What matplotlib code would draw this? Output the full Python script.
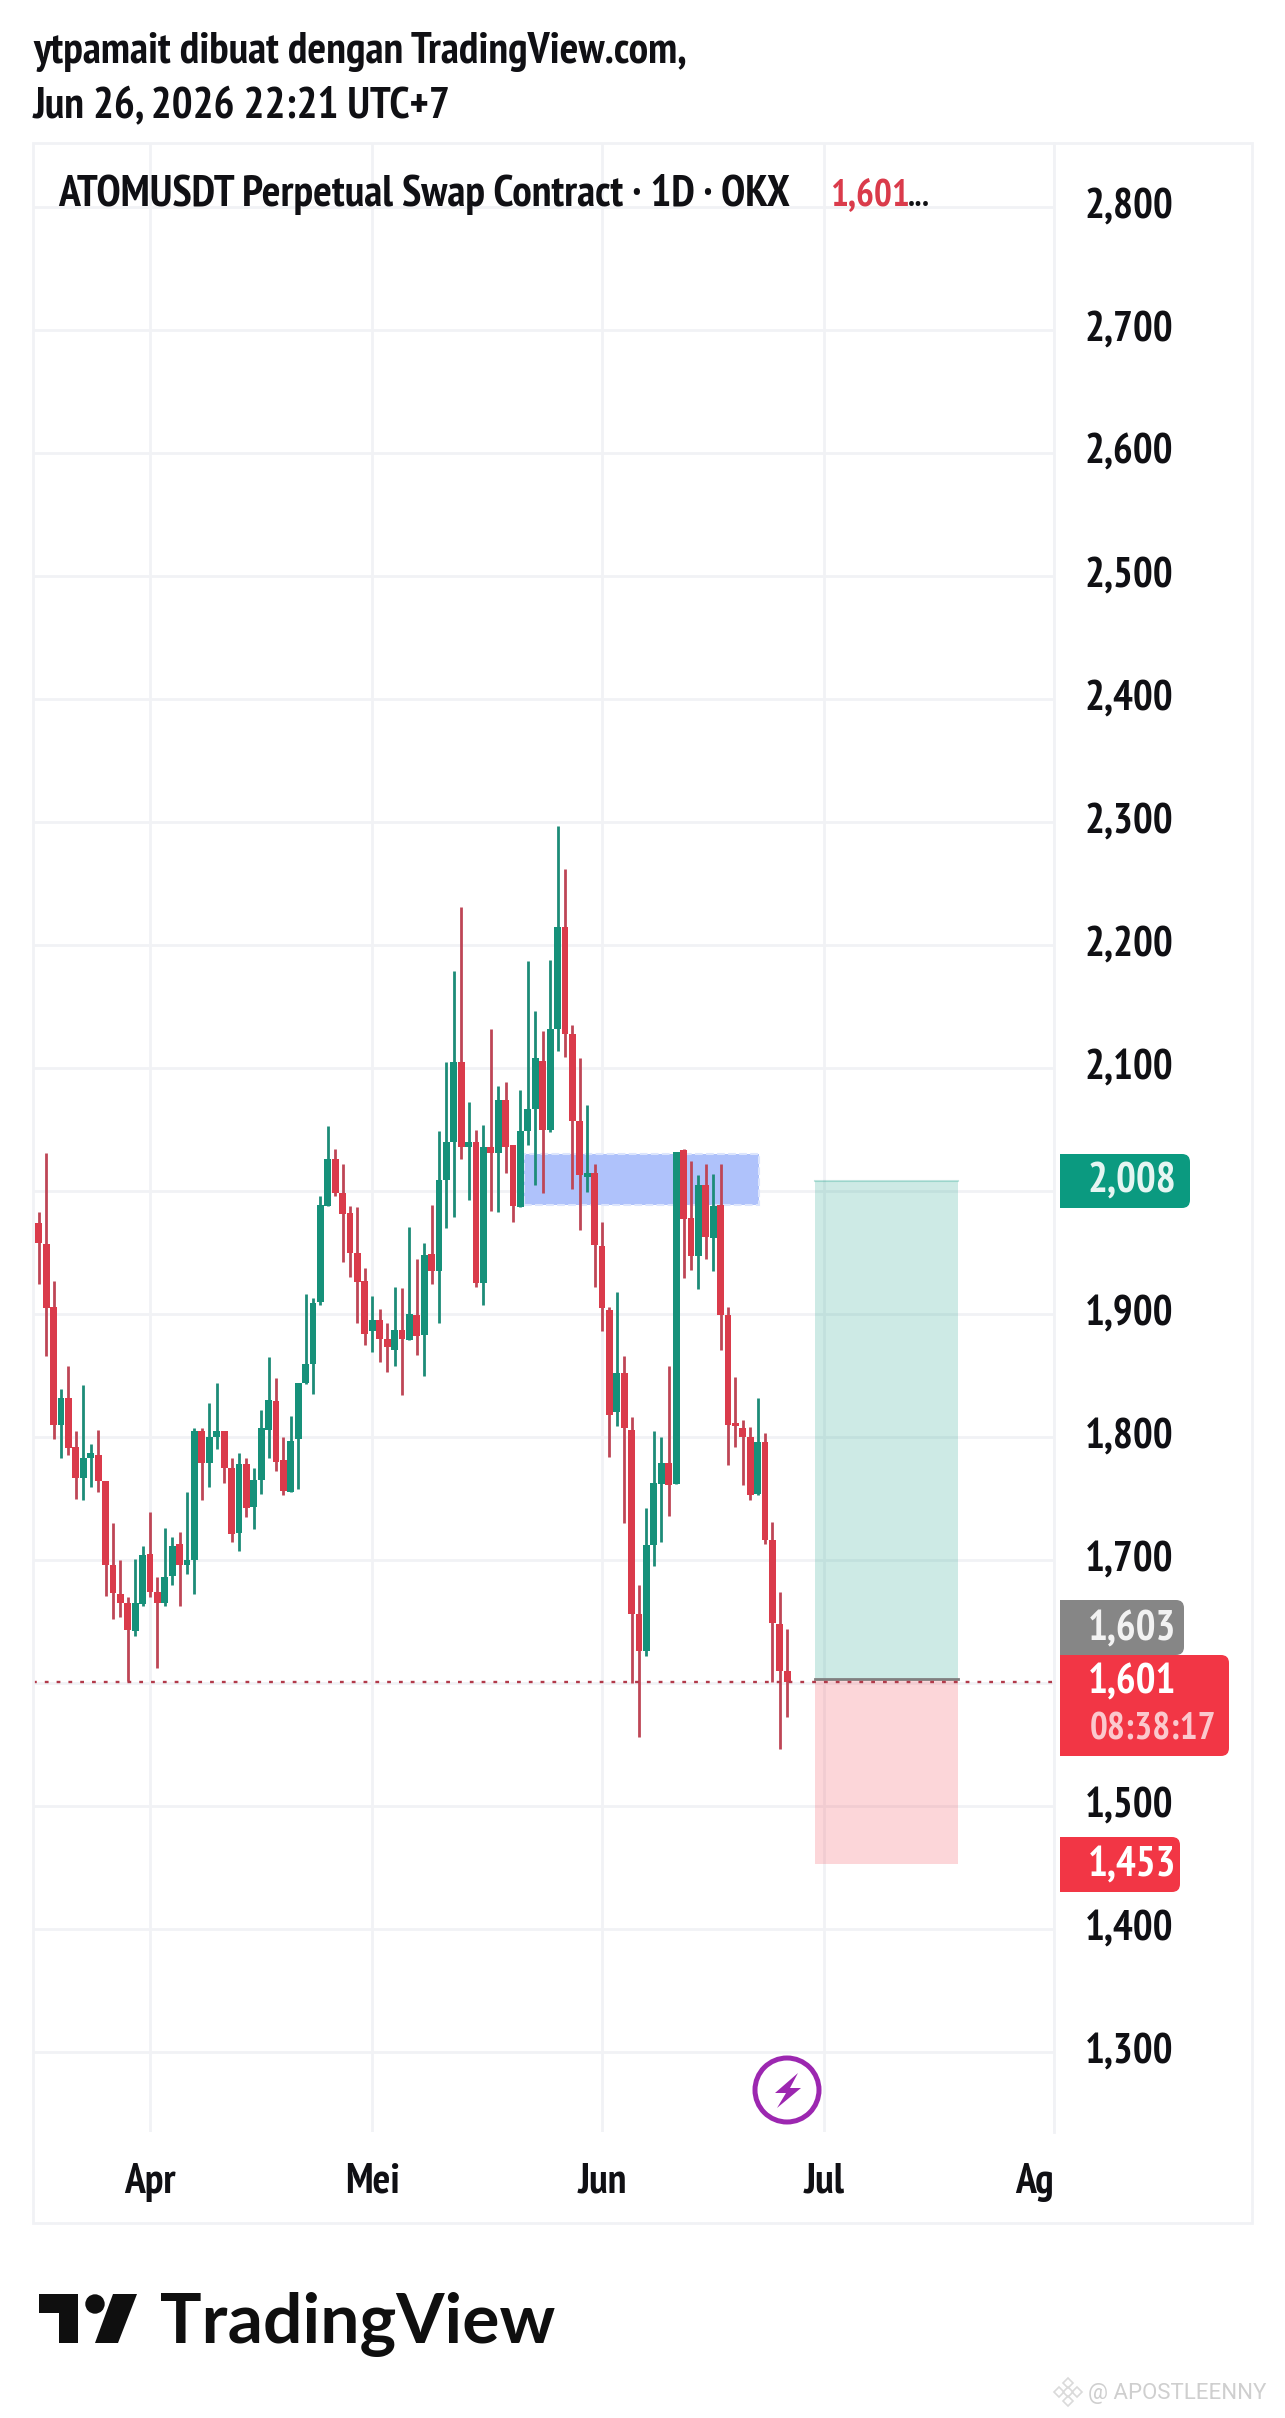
import matplotlib
matplotlib.use('Agg')
import matplotlib.pyplot as plt
from matplotlib.patches import Rectangle, FancyBboxPatch, Circle, Polygon
from matplotlib.transforms import ScaledTranslation
import numpy as np

## Data (days counted from 1 Apr, prices as shown on the chart)
first_day = -15
opens = [1974,1957,1906,1810,1832,1792,1767,1783,1785,1764,1696,1672,1665,1642,1664,1705,1674,1665,1687,1713,
         1696,1700,1805,1779,1800,1805,1775,1722,1778,1743,1765,1806,1829,1781,1755,1798,1844,1859,1910,1988,
         2026,1998,1982,1950,1927,1886,1895,1880,1871,1887,1879,1899,1883,1949,1935,2009,2040,2105,2036,2040,
         1925,2036,2031,2074,2037,1987,2049,2067,2106,2050,2132,2215,2128,2057,2011,2015,1955,1903,1820,1852,
         1806,1656,1626,1712,1762,1779,1762,2033,1978,1947,2005,1962,1989,1899,1811,1807,1800,1754,1796,1716,
         1648,1610]
highs = [1983,2031,1927,1839,1858,1805,1842,1794,1806,1764,1730,1700,1670,1701,1711,1739,1686,1726,1719,1723,
         1755,1807,1807,1828,1844,1805,1783,1787,1783,1775,1822,1865,1848,1800,1817,1844,1916,1913,1996,2053,
         2034,2022,1988,1987,1937,1915,1904,1893,1922,1921,1971,1945,1958,1989,2049,2105,2179,2231,2072,2050,
         2054,2132,2085,2089,2037,2082,2187,2146,2130,2188,2297,2262,2135,2108,2070,2022,1975,1906,1918,1866,
         1816,1680,1742,1805,1800,1858,2032,2034,2024,2013,2022,2014,2022,1906,1849,1814,1808,1832,1803,1731,
         1674,1644]
lows = [1924,1866,1798,1783,1785,1750,1749,1759,1755,1671,1652,1654,1602,1638,1663,1670,1612,1663,1680,1663,
        1689,1672,1749,1759,1790,1763,1715,1707,1735,1725,1754,1783,1772,1753,1755,1758,1843,1835,1907,1988,
        1996,1942,1930,1893,1875,1869,1861,1853,1858,1834,1879,1867,1850,1924,1893,1970,1979,2026,1993,1922,
        1907,1984,1983,2015,1975,1987,2037,2005,1998,2048,2114,2109,2002,1968,1999,1922,1886,1784,1809,1730,
        1600,1556,1622,1695,1715,1736,1762,1929,1936,1920,1945,1935,1871,1777,1792,1761,1749,1753,1713,1601,
        1546,1572]
closes = [1958,1905,1810,1832,1791,1767,1783,1787,1764,1696,1673,1665,1643,1665,1704,1674,1665,1686,1711,1696,
          1700,1805,1779,1800,1805,1775,1721,1778,1742,1765,1807,1830,1780,1756,1797,1844,1859,1909,1989,2026,
          1998,1981,1950,1926,1884,1895,1880,1873,1887,1880,1900,1882,1948,1935,2009,2040,2105,2036,2040,1925,
          2036,2031,2074,2036,1988,2049,2067,2108,2050,2132,2215,2128,2057,2013,2015,1956,1905,1818,1852,1807,
          1656,1626,1712,1763,1779,1761,2032,1977,1947,2005,1963,1988,1899,1810,1809,1800,1753,1796,1716,1649,
          1610,1601]

month_days = [0, 30, 61, 91, 122]
month_labels = ['Apr', 'Mei', 'Jun', 'Jul', 'Ag']
price_ticks = [1300, 1400, 1500, 1600, 1700, 1800, 1900, 2000, 2100, 2200, 2300, 2400, 2500, 2600, 2700, 2800]
price_labels = ['1,300', '1,400', '1,500', '', '1,700', '1,800', '1,900', '', '2,100', '2,200', '2,300',
                '2,400', '2,500', '2,600', '2,700', '2,800']
last_price = 1601
target_price = 2008
entry_price = 1603
stop_price = 1453
zone_low = 1989
zone_high = 2030
zone_days = [50.5, 82.2]
position_days = [89.7, 109]

## Fonts: narrow bold for the chart text, plain fallback if it is missing
plt.rcParams['font.family'] = ['PT Sans Narrow', 'Liberation Sans', 'DejaVu Sans']

W, H = 1285, 2418
INK = '#101014'
GRID = '#F1F2F5'
GREEN = '#16917A'
RED = '#DA3B4B'
GREEN_WICK = '#1D8C78'
RED_WICK = '#BE4656'
TAG_RED = '#F23645'
SIZE = 30
HEAD = 31.5

fig = plt.figure(figsize=(W / 100, H / 100), dpi=100, facecolor='white')

## Main chart, placed so 7.41 px = 1 day and 1.23 px = 1 price unit
left, right, top, bottom = 33, 1054, 143, 2132
ax = fig.add_axes([left / W, 1 - bottom / H, (right - left) / W, (bottom - top) / H])
ax.set_xlim((left - 150) / 7.41, (right - 150) / 7.41)
ax.set_ylim(2800 - (bottom - 207) / 1.23, 2800 + (207 - top) / 1.23)
for side in ['top', 'left', 'bottom']:
    ax.spines[side].set_visible(False)
ax.spines['right'].set_color(GRID)
ax.spines['right'].set_linewidth(2)

ax.set_axisbelow(True)
ax.grid(color=GRID, linewidth=2)
ax.set_xticks(month_days)
ax.set_xticklabels(month_labels)
ax.yaxis.tick_right()
ax.set_yticks(price_ticks)
ax.set_yticklabels(price_labels)
ax.tick_params(axis='x', length=0, pad=22, labelsize=SIZE)
ax.tick_params(axis='y', length=0, pad=22, labelsize=SIZE)
for label in ax.get_xticklabels() + ax.get_yticklabels():
    label.set_fontweight('bold')
    label.set_color(INK)
ax.get_xticklabels()[-1].set_ha('right')
## price labels sit a little above their grid lines
lift = ScaledTranslation(0, 4 / 100, fig.dpi_scale_trans)
for label in ax.get_yticklabels():
    label.set_transform(label.get_transform() + lift)

## Blue zone and the long position box
ax.add_patch(Rectangle((zone_days[0], zone_low), zone_days[1] - zone_days[0], zone_high - zone_low,
                       facecolor='#AFC2FB', edgecolor='#DCE5FD', linestyle='--', linewidth=1.5, zorder=1))
ax.add_patch(Rectangle((position_days[0], entry_price), position_days[1] - position_days[0],
                       target_price - entry_price, facecolor='#089981', alpha=0.2, linewidth=0, zorder=4))
ax.add_patch(Rectangle((position_days[0], stop_price), position_days[1] - position_days[0],
                       entry_price - stop_price, facecolor='#F23645', alpha=0.2, linewidth=0, zorder=4))
ax.plot(position_days, [entry_price, entry_price], color='#808080', linewidth=2, zorder=5)
ax.plot(position_days, [target_price, target_price], color='#089981', alpha=0.25, linewidth=1.5, zorder=5)

## Candles
days = first_day + np.arange(len(closes))
opens_a = np.array(opens)
closes_a = np.array(closes)
up = closes_a >= opens_a
ax.vlines(days[up], np.array(lows)[up], np.array(highs)[up], color=GREEN_WICK, linewidth=2.0, zorder=2)
ax.vlines(days[~up], np.array(lows)[~up], np.array(highs)[~up], color=RED_WICK, linewidth=2.0, zorder=2)
body_low = np.minimum(opens_a, closes_a)
body_size = np.abs(closes_a - opens_a)
ax.bar(days, body_size, bottom=body_low, width=0.92, color=[GREEN if u else RED for u in up], zorder=3)

## Last price line
ax.axhline(last_price, color='#B23A4A', linewidth=1.7, linestyle=(0, (1.6, 3.4)), zorder=6)

## Overlay in pixels for header, tags, icon and logo
ov = fig.add_axes([0, 0, 1, 1], zorder=10)
ov.set_xlim(0, W)
ov.set_ylim(H, 0)
ov.axis('off')
ov.patch.set_alpha(0)

ov.add_patch(Rectangle((33, 143), 1252 - 33, 2223 - 143, fill=False, edgecolor=GRID, linewidth=2))

ov.text(33, 63, 'ytpamait dibuat dengan TradingView.com,', fontsize=HEAD, fontweight='bold', color=INK, va='baseline')
ov.text(33, 118, 'Jun 26, 2026 22:21 UTC+7', fontsize=HEAD, fontweight='bold', color=INK, va='baseline')
ov.text(58, 206, 'ATOMUSDT Perpetual Swap Contract · 1D · OKX', fontsize=HEAD, fontweight='bold', color=INK, va='baseline')
ov.text(830, 206, '1,601', fontsize=27, fontweight='bold', color=RED, va='baseline')
ov.text(908, 206, '...', fontsize=24, fontweight='bold', color=INK, va='baseline')


def price_tag(x1, y1, y2, color):
    ov.add_patch(FancyBboxPatch((1070, y1), x1 - 1070, y2 - y1, boxstyle='round,pad=0,rounding_size=8',
                                facecolor=color, edgecolor='none'))
    ov.add_patch(Rectangle((1060, y1), 30, y2 - y1, facecolor=color, edgecolor='none'))


price_tag(1190, 1154, 1208, '#0B9A80')
ov.text(1088, 1181, f'{target_price:,}', fontsize=SIZE, fontweight='bold', color='#E6F5F2', va='center')
price_tag(1184, 1600, 1655, '#868686')
ov.text(1088, 1630, f'{entry_price:,}', fontsize=SIZE, fontweight='bold', color='#F2F2F2', va='center')
price_tag(1229, 1655, 1756, TAG_RED)
ov.text(1088, 1683, f'{last_price:,}', fontsize=SIZE, fontweight='bold', color='white', va='center')
ov.text(1090, 1730, '08:38:17', fontsize=27, fontweight='bold', color='#FBC8CD', va='center')
price_tag(1180, 1837, 1892, TAG_RED)
ov.text(1088, 1865, f'{stop_price:,}', fontsize=SIZE, fontweight='bold', color='white', va='center')

## Lightning icon
ov.add_patch(Circle((787, 2090), 32, fill=False, edgecolor='#9C27B0', linewidth=3.6))
ov.add_patch(Polygon([(798, 2073), (775, 2093), (786, 2093), (777, 2108), (801, 2088), (790, 2088)],
                     facecolor='#9C27B0', edgecolor='none'))

## TradingView logo
ov.add_patch(Polygon([(39, 2294), (78, 2294), (78, 2343), (59, 2343), (59, 2313), (39, 2313)],
                     facecolor='#0F0F0F', edgecolor='none'))
ov.add_patch(Circle((95, 2304), 9.7, facecolor='#0F0F0F', edgecolor='none'))
ov.add_patch(Polygon([(113, 2294), (137, 2294), (118, 2343), (95, 2343)], facecolor='#0F0F0F', edgecolor='none'))
ov.text(160, 2343, 'TradingView', fontsize=50, fontweight='bold', family='Lato', color='#0F0F0F', va='baseline')

## Watermark
ov.text(1088, 2393, '@ APOSTLEENNY', fontsize=16, family='Roboto', color='#CFCFCF', va='center')
for cx, cy, r in [(1068, 2392, 5), (1068, 2383, 5), (1068, 2401, 5), (1059, 2392, 5), (1077, 2392, 5)]:
    ov.add_patch(Polygon([(cx, cy - r), (cx + r, cy), (cx, cy + r), (cx - r, cy)], fill=False,
                         edgecolor='#DADADA', linewidth=1.2))

fig.savefig('out.png', dpi=100)
